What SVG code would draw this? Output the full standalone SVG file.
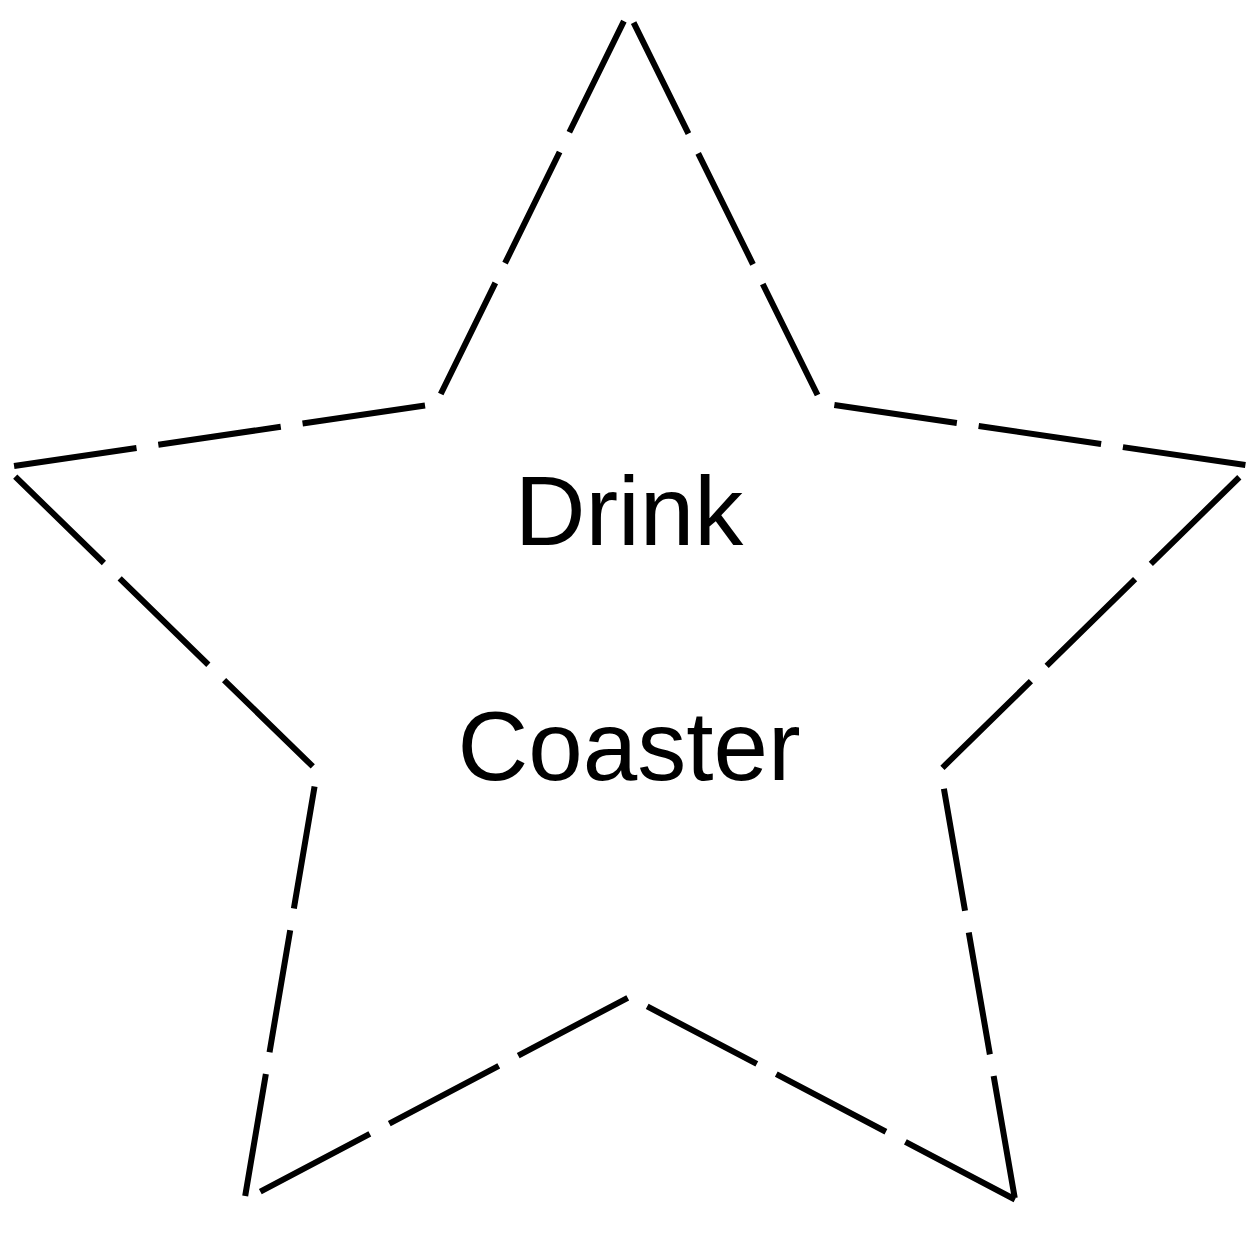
<svg xmlns="http://www.w3.org/2000/svg" width="1260" height="1260" viewBox="0 0 1260 1260">
  <style>
    .star { fill: none; stroke: #000; stroke-width: 6; stroke-dasharray: 123.8 22; stroke-linejoin: miter; stroke-miterlimit: 10; }
    .label { font-family: "Liberation Sans", Arial, Helvetica, sans-serif; font-size: 98px; fill: #000; text-anchor: middle; }
  </style>
  <rect width="1260" height="1260" fill="#fff"/>
  <g id="drink-coaster">
    <path class="star" d="M1015,1199.5 L629.3,997 L244.5,1200 L317.2,770.8 L5.6,467.2 L435.9,403.9 L628.4,12 L821.6,403.2 L1251,465.8 L940.6,769.6 Z"/>
    <text class="label" x="629" y="545">Drink</text>
    <text class="label" x="629" y="780">Coaster</text>
  </g>
</svg>
